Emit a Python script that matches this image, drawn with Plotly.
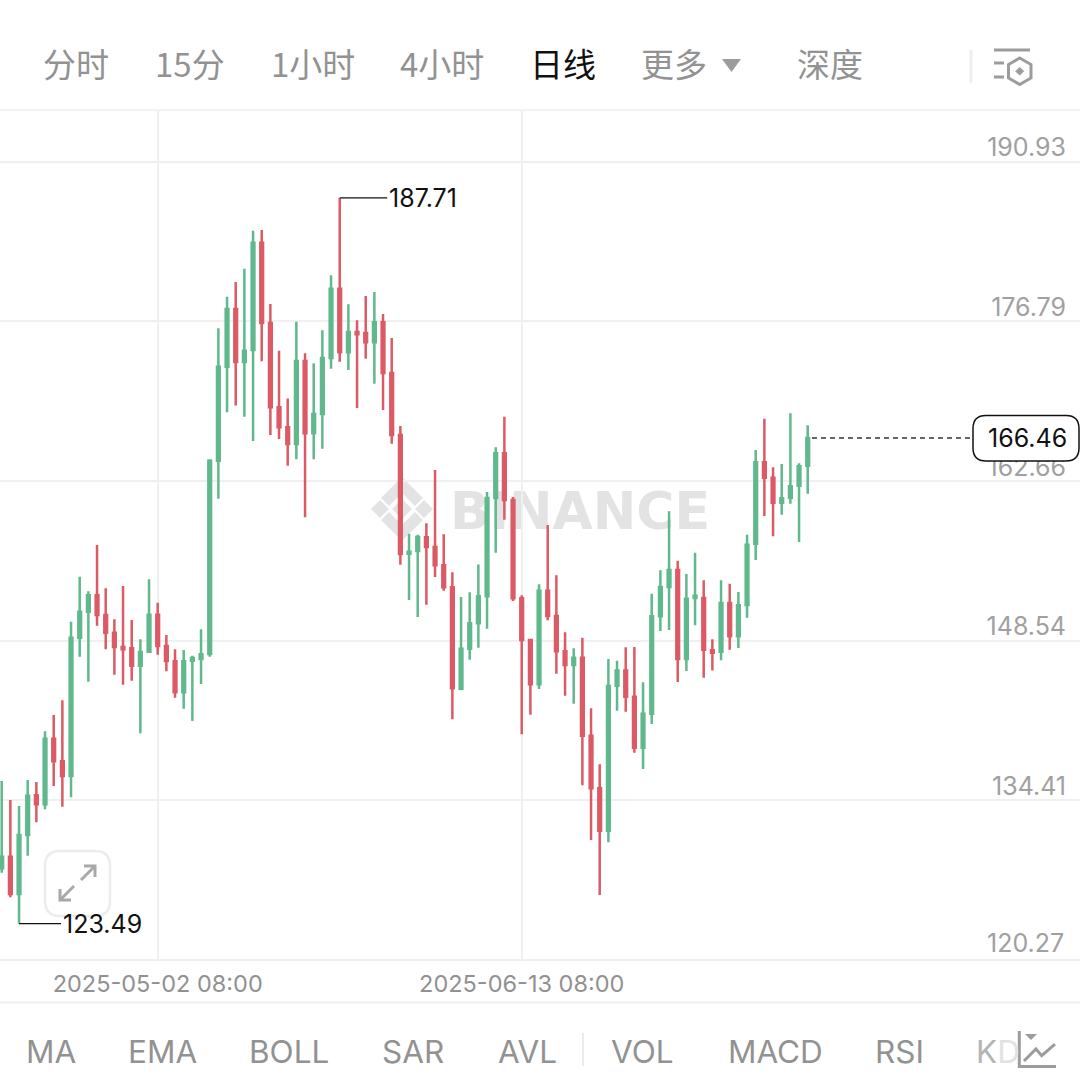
# Daily candles with the exchange app toolbar around them
import pandas as pd
import plotly.graph_objects as go

# Data
start_day = "2025-04-14 08:00"
opens = [128.38, 129.41, 126.11, 131.33, 134.84, 134.05, 139.85, 137.85, 136.55, 148.79,
         151.09, 152.54, 150.80, 149.23, 147.97, 147.85, 146.31, 147.55, 150.83, 148.06,
         146.70, 143.96, 146.76, 146.90, 147.35, 164.45, 172.77, 177.88, 173.19, 174.25,
         183.74, 176.64, 169.18, 167.41, 165.93, 173.28, 166.88, 168.59, 173.54, 179.67,
         174.05, 175.84, 175.75, 174.93, 176.70, 172.21, 166.73, 156.22, 156.46, 157.67,
         156.82, 155.20, 153.25, 144.28, 147.82, 150.06, 152.45, 161.15, 165.11, 160.97,
         152.28, 148.59, 144.67, 152.95, 150.71, 147.59, 146.37, 147.02, 140.12, 135.46,
         131.71, 144.54, 145.90, 143.57, 139.06, 142.06, 150.68, 153.28, 154.78, 146.91,
         152.30, 152.30, 147.67, 147.55, 151.86, 148.91, 151.68, 157.11, 164.31, 162.95,
         160.74, 161.18, 162.24, 164.01]
highs = [136.11, 134.43, 133.90, 136.20, 136.02, 140.51, 141.95, 143.25, 150.21, 154.19,
         152.90, 156.99, 153.16, 150.42, 153.36, 150.36, 148.65, 153.96, 151.89, 149.03,
         147.76, 147.70, 147.20, 149.53, 164.58, 176.17, 178.97, 180.27, 181.44, 184.81,
         184.87, 178.32, 174.19, 169.97, 176.75, 173.96, 173.07, 175.99, 180.86, 187.71,
         178.29, 176.88, 179.03, 179.38, 177.43, 175.31, 167.52, 157.99, 157.90, 158.91,
         163.63, 157.94, 154.58, 152.39, 152.81, 155.28, 161.68, 165.64, 168.35, 161.24,
         152.54, 148.67, 153.52, 158.76, 154.31, 149.27, 147.85, 148.79, 142.54, 137.59,
         146.91, 146.76, 147.94, 147.97, 144.84, 152.68, 154.75, 159.98, 155.60, 154.43,
         156.31, 153.87, 148.65, 153.87, 153.57, 152.83, 157.90, 165.40, 168.17, 163.87,
         164.16, 168.65, 164.22, 167.59]
lows = [127.99, 125.82, 123.49, 129.50, 132.45, 133.60, 135.67, 133.83, 134.67, 147.11,
        144.90, 149.85, 147.76, 145.52, 144.63, 144.98, 140.33, 147.55, 147.29, 145.82,
        143.48, 142.51, 141.42, 144.69, 147.11, 161.09, 168.74, 169.35, 168.35, 166.20,
        173.25, 166.73, 166.37, 164.01, 164.58, 159.44, 164.58, 165.51, 172.59, 173.21,
        172.48, 169.12, 173.48, 171.27, 168.94, 165.96, 155.25, 152.13, 150.62, 151.71,
        154.16, 152.95, 141.57, 144.14, 146.84, 147.91, 149.59, 156.31, 159.23, 152.04,
        140.24, 141.98, 144.25, 150.33, 145.60, 143.66, 142.95, 135.73, 130.89, 126.02,
        130.68, 142.33, 142.24, 138.61, 137.17, 141.15, 149.38, 149.47, 144.87, 145.84,
        149.89, 145.25, 145.90, 146.79, 147.73, 147.88, 150.56, 155.67, 159.56, 157.76,
        159.67, 160.65, 157.26, 161.53]
closes = [129.41, 126.11, 131.33, 134.81, 134.05, 139.85, 137.85, 136.55, 148.79, 151.09,
          152.54, 150.80, 149.23, 147.97, 147.76, 146.31, 147.52, 150.83, 148.06, 146.73,
          143.96, 146.70, 146.99, 147.32, 164.45, 172.77, 177.88, 173.19, 174.19, 183.74,
          176.64, 169.18, 167.41, 165.93, 173.28, 166.88, 168.59, 173.54, 179.67, 174.05,
          175.84, 175.64, 174.93, 176.70, 172.21, 166.73, 156.20, 156.40, 157.70, 156.82,
          155.20, 153.25, 144.31, 147.82, 150.06, 152.45, 161.15, 165.11, 160.97, 152.28,
          148.59, 144.67, 152.95, 150.71, 147.59, 146.37, 147.02, 140.12, 135.46, 131.71,
          144.52, 145.90, 143.57, 139.06, 142.06, 150.68, 153.28, 154.78, 146.91, 152.24,
          152.51, 147.73, 147.46, 151.86, 148.91, 151.66, 157.02, 164.31, 162.95, 160.74,
          161.13, 162.19, 163.96, 166.46]
price_ticks = [190.93, 176.79, 162.66, 148.54, 134.41, 120.27]
date_ticks = ["2025-05-02 08:00", "2025-06-13 08:00"]
top_tabs = ["分时", "15分", "1小时", "4小时", "日线", "更多", "深度"]
bottom_tabs = ["MA", "EMA", "BOLL", "SAR", "AVL", "VOL", "MACD", "RSI"]

# Styles
GREEN = "#60b88d"
RED = "#dc5a65"
GRID = "#f0f0f0"
GREY = "#929292"
ICON = "#9c9c9c"
PRICE_GREY = "#a0a0a0"
NUM_FONT = "Inter"
CJK_FONT = "Noto Sans CJK SC"

days = pd.date_range(start_day, periods=len(closes), freq="D")


# The toolbar furniture is laid out in screen pixels
def px(x):
    return x / 1080


def py(y):
    return 1 - y / 1080


def path_of(points, closed=False):
    d = "M" + " L".join(f"{px(x):.5f},{py(y):.5f}" for x, y in points)
    return d + (" Z" if closed else "")


def rounded(x0, y0, x1, y1, r):
    return (f"M{px(x0 + r):.5f},{py(y0):.5f} L{px(x1 - r):.5f},{py(y0):.5f} "
            f"Q{px(x1):.5f},{py(y0):.5f} {px(x1):.5f},{py(y0 + r):.5f} "
            f"L{px(x1):.5f},{py(y1 - r):.5f} Q{px(x1):.5f},{py(y1):.5f} {px(x1 - r):.5f},{py(y1):.5f} "
            f"L{px(x0 + r):.5f},{py(y1):.5f} Q{px(x0):.5f},{py(y1):.5f} {px(x0):.5f},{py(y1 - r):.5f} "
            f"L{px(x0):.5f},{py(y0 + r):.5f} Q{px(x0):.5f},{py(y0):.5f} {px(x0 + r):.5f},{py(y0):.5f} Z")


def stroke(points, color=ICON, width=3, closed=False):
    return dict(type="path", xref="paper", yref="paper", path=path_of(points, closed),
                line=dict(color=color, width=width))


def solid(points, color=ICON, layer="above"):
    return dict(type="path", xref="paper", yref="paper", path=path_of(points, True),
                fillcolor=color, line=dict(width=0), layer=layer)


def label(text, x, y, size, color=GREY, family=NUM_FONT):
    return dict(text=text, xref="paper", yref="paper", x=px(x), y=py(y), showarrow=False,
                xanchor="center", yanchor="middle", font=dict(size=size, color=color, family=family))


fig = go.Figure(go.Candlestick(
    x=days, open=opens, high=highs, low=lows, close=closes,
    increasing=dict(line=dict(color=GREEN, width=2.5), fillcolor=GREEN),
    decreasing=dict(line=dict(color=RED, width=2.5), fillcolor=RED),
    whiskerwidth=0, hoverinfo="skip", showlegend=False,
))

shapes = []

# Watermark sits under the candles
WM = "#e3e3e3"
cx, cy = 402, 509
shapes.append(solid([(cx, cy - 10), (cx + 10, cy), (cx, cy + 10), (cx - 10, cy)], WM, "below"))
shapes.append(solid([(cx - 31, cy), (cx - 22, cy - 9), (cx - 13, cy), (cx - 22, cy + 9)], WM, "below"))
shapes.append(solid([(cx + 31, cy), (cx + 22, cy - 9), (cx + 13, cy), (cx + 22, cy + 9)], WM, "below"))
shapes.append(solid([(cx, cy - 32), (cx + 21, cy - 11), (cx + 13, cy - 3), (cx, cy - 16),
                     (cx - 13, cy - 3), (cx - 21, cy - 11)], WM, "below"))
shapes.append(solid([(cx, cy + 32), (cx + 21, cy + 11), (cx + 13, cy + 3), (cx, cy + 16),
                     (cx - 13, cy + 3), (cx - 21, cy + 11)], WM, "below"))
shapes.append(dict(type="rect", xref="paper", yref="paper", x0=px(445), x1=px(715), y0=py(537), y1=py(477),
                   line=dict(width=0), layer="below",
                   label=dict(text="<b>BINANCE</b>", textposition="middle center",
                              font=dict(size=52, color=WM, family="DejaVu Sans"))))

# Dividers
shapes.append(stroke([(0, 110), (1080, 110)], "#f2f2f2", 2))
shapes.append(stroke([(0, 960), (1080, 960)], "#eeeeee", 2))
shapes.append(stroke([(0, 1002.5), (1080, 1002.5)], "#f0f0f0", 2))
shapes.append(stroke([(971, 50), (971, 83)], "#eeeeee", 3))
shapes.append(stroke([(583, 1033), (583, 1066)], "#e6e6e6", 1.5))

# Last price line and its box
shapes.append(dict(type="line", xref="paper", yref="y", x0=px(812), x1=px(973), y0=closes[-1], y1=closes[-1],
                   line=dict(color="#333333", width=1.5, dash="5px,4px")))
shapes.append(dict(type="path", xref="paper", yref="paper", path=rounded(973, 415.5, 1079, 461, 13),
                   fillcolor="white", line=dict(color="#111111", width=1.5)))

# Expand button
shapes.append(dict(type="path", xref="paper", yref="paper", path=rounded(45, 851, 110, 916, 15),
                   fillcolor="white", line=dict(color="#ececec", width=2.5)))
shapes.append(stroke([(60, 900), (74, 886)], "#a8a8a8", 3))
shapes.append(stroke([(60, 889), (60, 900), (71, 900)], "#a8a8a8", 3))
shapes.append(stroke([(81, 880), (95, 866)], "#a8a8a8", 3))
shapes.append(stroke([(84, 866), (95, 866), (95, 877)], "#a8a8a8", 3))

# Dropdown arrow and settings icon
shapes.append(solid([(722, 59), (741, 59), (731.5, 72)]))
shapes.append(stroke([(994, 50), (1030, 50)]))
shapes.append(stroke([(994, 63), (1004, 63)]))
shapes.append(stroke([(994, 77), (1004, 77)]))
shapes.append(stroke([(1019.7, 58), (1031, 64.5), (1031, 78), (1019.7, 84.5), (1008.5, 78), (1008.5, 64.5)],
                     closed=True))
shapes.append(solid([(1019.7, 67), (1024.2, 71.3), (1019.7, 75.6), (1015.2, 71.3)]))

# Indicator icon
shapes.append(dict(type="rect", xref="paper", yref="paper", x0=px(1016), x1=px(1060), y0=py(1070), y1=py(1028),
                   fillcolor="white", line=dict(width=0)))
shapes.append(stroke([(1019.3, 1031), (1019.3, 1066.5), (1056, 1066.5)]))
shapes.append(solid([(1025, 1034), (1037, 1034), (1031, 1040)]))
shapes.append(stroke([(1024, 1061), (1036, 1049), (1041.7, 1055.7), (1055, 1044)]))

annotations = []

# Toolbar tabs
top_x = [76, 190, 313, 442, 563, 674, 830]
for text, x in zip(top_tabs, top_x):
    color = "#111111" if text == "日线" else GREY
    annotations.append(label(text, x, 63, 33, color, CJK_FONT))

bottom_x = [51, 162, 289, 413, 527, 642, 775, 899]
for text, x in zip(bottom_tabs, bottom_x):
    annotations.append(label(text, x, 1051, 31.5, GREY))
annotations.append(label('<span style="color:#b4b4b4">K</span><span style="color:#e2e2e2">D</span>',
                         998, 1051, 31.5))

# High, low and last price labels
hi = highs.index(max(highs))
lo = lows.index(min(lows))
annotations.append(dict(text=f"{highs[hi]:.2f}", x=days[hi], y=highs[hi], ax=83, ay=0, showarrow=True,
                        arrowhead=0, arrowwidth=1.2, arrowcolor="#111111", standoff=0,
                        font=dict(size=25, color="#111111", family=NUM_FONT)))
annotations.append(dict(text=f"{lows[lo]:.2f}", x=days[lo], y=lows[lo], ax=83, ay=0, showarrow=True,
                        arrowhead=0, arrowwidth=1.2, arrowcolor="#111111", standoff=0,
                        font=dict(size=25, color="#111111", family=NUM_FONT)))
annotations.append(dict(text=f"{closes[-1]:.2f}", xref="paper", yref="y", x=px(1027), y=closes[-1],
                        xanchor="center", showarrow=False, font=dict(size=25, color="#111111", family=NUM_FONT)))

# The lowest tick sits on the axis end, where plotly drops an inside label
annotations.append(dict(text=f"{price_ticks[-1]:.2f}", xref="paper", yref="y", x=px(1066), y=price_ticks[-1],
                        xanchor="right", yanchor="middle", yshift=17, showarrow=False,
                        font=dict(size=25, color=PRICE_GREY, family=NUM_FONT)))

fig.update_layout(
    width=1080, height=1080, autosize=False,
    margin=dict(l=0, r=0, t=0, b=0),
    paper_bgcolor="white", plot_bgcolor="white",
    boxgap=0.55,
    shapes=shapes, annotations=annotations,
    xaxis=dict(
        type="date", rangeslider=dict(visible=False), domain=[0, 1],
        range=["2025-04-14 03:18", "2025-08-16 18:00"],
        tickvals=date_ticks, ticktext=date_ticks, ticks="",
        ticklabelstandoff=7,
        showgrid=True, gridcolor=GRID, gridwidth=1.5, showline=False, zeroline=False,
        tickfont=dict(size=23.5, color="#919191", family=NUM_FONT),
    ),
    yaxis=dict(
        side="right", domain=[1 - 960 / 1080, 1 - 110 / 1080],
        range=[120.27, 195.49],
        tickvals=price_ticks, ticktext=[f"{v:.2f}" for v in price_ticks], ticks="",
        ticklabelposition="inside", ticklabelstandoff=11, ticklabelshift=-14,
        showgrid=True, gridcolor=GRID, gridwidth=1.5, showline=False, zeroline=False,
        tickfont=dict(size=25, color=PRICE_GREY, family=NUM_FONT),
    ),
)

fig.write_html("out.html", config=dict(displayModeBar=False),
               post_script="document.body.style.margin='0';")
